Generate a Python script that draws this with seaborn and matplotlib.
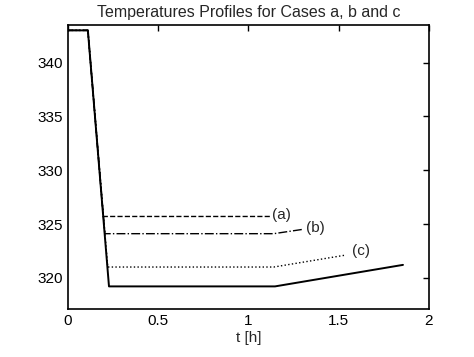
import numpy as np
import pandas as pd
import seaborn as sns
import matplotlib.pyplot as plt

t_solid = [0.0, 0.11, 0.227, 1.147, 1.856]
T_solid = [343.0, 343.0, 319.2, 319.2, 321.2]

t_a = [0.0, 0.11, 0.195, 1.13]
T_a = [343.0, 343.0, 325.7, 325.7]

t_b = [0.0, 0.11, 0.204, 1.14, 1.30]
T_b = [343.0, 343.0, 324.1, 324.1, 324.5]

t_c = [0.0, 0.11, 0.22, 1.14, 1.535]
T_c = [343.0, 343.0, 321.0, 321.0, 322.1]

labels = ['(a)', '(b)', '(c)']
label_x = [1.13, 1.32, 1.575]
label_y = [325.8, 324.6, 322.5]

sns.set_style('white')
plt.rcParams['font.family'] = ['Liberation Sans', 'DejaVu Sans']

fig = plt.figure(figsize=(4.74, 3.57), dpi=100)
ax = fig.add_axes([0.1435, 0.1345, 0.7615, 0.7955])

sns.lineplot(x=t_a, y=T_a, ax=ax, color='black', lw=1.0, linestyle='--', sort=False)
sns.lineplot(x=t_b, y=T_b, ax=ax, color='black', lw=1.0, linestyle='-.', sort=False)
sns.lineplot(x=t_c, y=T_c, ax=ax, color='black', lw=1.0, linestyle=':', sort=False)
sns.lineplot(x=t_solid, y=T_solid, ax=ax, color='black', lw=1.4, sort=False)

for lab, lx, ly in zip(labels, label_x, label_y):
    ax.text(lx, ly, lab, fontsize=11, ha='left', va='center')

ax.set_xlim(0, 2)
ax.set_ylim(317.1, 343.5)
ax.set_xticks([0, 0.5, 1, 1.5, 2])
ax.set_xticklabels(['0', '0.5', '1', '1.5', '2'])
ax.set_yticks([320, 325, 330, 335, 340])
ax.tick_params(direction='in', top=True, right=True, length=4, width=1,
               labelsize=11, colors='black')
for s in ax.spines.values():
    s.set_color('black')
    s.set_linewidth(1.2)

ax.set_title('Temperatures Profiles for Cases a, b and c', fontsize=11.5)
ax.set_xlabel('t [h]', fontsize=11, labelpad=2)

fig.savefig('out.png', dpi=100)
